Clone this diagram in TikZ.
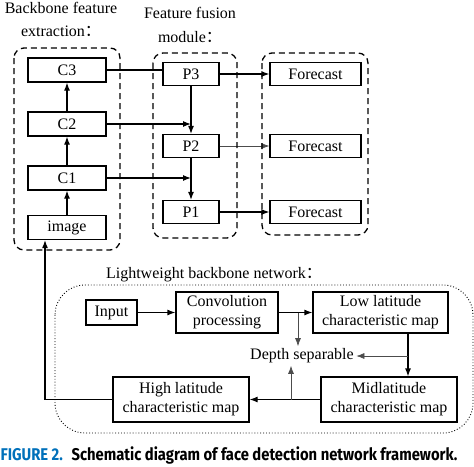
\documentclass[tikz,border=0pt]{standalone}
\usepackage{fontspec}
\setmainfont{Liberation Serif}
\newfontfamily\capfont{Fira Sans}
\newfontfamily\cjk{Noto Sans CJK SC}
\usetikzlibrary{arrows,arrows.meta,backgrounds}
\definecolor{capblue}{RGB}{0,112,186}
\newcommand{\fwcolon}{{\cjk ：}}

\begin{document}
\begin{tikzpicture}[x=1pt, y=-1pt, >={Latex[length=8pt,width=6pt]}, line width=1.2pt,
	txt/.style={font=\fontsize{16}{19}\selectfont},
	box/.style={txt, draw, rectangle, inner sep=0pt, align=center},
	cbox/.style={box, minimum width=78pt, minimum height=24pt},
	pbox/.style={box, minimum width=56pt, minimum height=23pt},
	fbox/.style={box, minimum width=91pt, minimum height=23pt},
	group/.style={dash pattern=on 6pt off 4pt, rounded corners=10pt, line width=1.3pt},
	thin line/.style={line width=0.7pt, draw=black!70}]

	\useasboundingbox (0,0) rectangle (474,466);

	% Titles
	\node[txt, anchor=base] (bb title) at (61,13) {Backbone feature};
	\node[txt, anchor=base] (bb title2) at (61,36) {extraction\fwcolon};
	\node[txt, anchor=base] (ff title) at (190,18) {Feature fusion};
	\node[txt, anchor=base] (ff title2) at (190,42) {module\fwcolon};
	\node[txt, anchor=base] (lw title) at (214,278) {Lightweight backbone network\fwcolon};

	% Backbone feature extraction
	\node[cbox] (C3) at (67,70) {C3};
	\node[cbox] (C2) at (67,124) {C2};
	\node[cbox] (C1) at (67,178) {C1};
	\node[cbox] (image) at (67,227.5) {image};
	\foreach \a/\b in {image/C1, C1/C2, C2/C3}
		\draw[->] (\a) -- (\b);

	% Feature fusion module
	\node[pbox] (P3) at (191,74) {P3};
	\node[pbox] (P2) at (191,146) {P2};
	\node[pbox] (P1) at (191,212) {P1};
	\draw (C3) -- (C3 -| P3.west);
	\draw[->] (C2) -- (C2 -| P3.south);
	\draw[->] (C1) -- (C1 -| P2.south);
	\draw[->] (P3) -- (P2);
	\draw[->] (P2) -- (P1);

	% Forecast heads
	\foreach \p/\y/\s in {P3/74/, P2/146/thin line, P1/212/} {
		\node[fbox] (F\p) at (315.5,\y) {Forecast};
		\draw[->, \s] (\p) -- (F\p);
	}

	% Dashed groups
	\draw[group] (14,48) rectangle (120,250);
	\draw[group] (153,53) rectangle (237,238);
	\draw[group] (262,53) rectangle (368,235);

	% Lightweight backbone network
	\node[box, minimum width=51pt, minimum height=25pt] (input) at (111.5,312.5) {Input};
	\node[box, minimum width=102pt, minimum height=41pt] (conv) at (227,312.5) {Convolution\\processing};
	\node[box, minimum width=135pt, minimum height=41pt] (low) at (380.5,312.5) {Low latitude\\characteristic map};
	\node[txt, inner sep=2pt] (depth) at (302,356) {Depth separable};
	\node[box, minimum width=136pt, minimum height=45pt] (mid) at (389,399.5) {Midlatitude\\characteristic map};
	\node[box, minimum width=136pt, minimum height=45pt] (high) at (181,399.5) {High latitude\\characteristic map};

	\draw[->] (input) -- (conv);
	\draw[->] (conv) -- (low);
	\draw[->] (low.south -| 408,0) -- (mid.north -| 408,0);
	\draw[->] (mid) -- (high);

	% Depth separable branches
	\coordinate (split1) at (298,312.5);
	\coordinate (split2) at (408,356);
	\coordinate (split3) at (291,399.5);
	\draw[->, thin line] (split1) -- (split1 |- depth.north);
	\draw[->, thin line] (split2) -- (depth.east);
	\draw[->, thin line] (split3) -- (split3 |- depth.south);

	% Back to image
	\draw[->] (high.west) -| ([xshift=-22pt]image.south);

	\draw[dotted, line width=0.9pt, rounded corners=30pt] (55,285) rectangle (473,433);

	% Caption
	\node[anchor=base west, inner sep=0pt, font=\capfont\bfseries\fontsize{17}{20}\selectfont] (caption) at (0,460)
		{\scalebox{0.87}[1]{\textcolor{capblue}{FIGURE 2.}\hspace{10pt}Schematic diagram of face detection network framework.}};
\end{tikzpicture}
\end{document}
